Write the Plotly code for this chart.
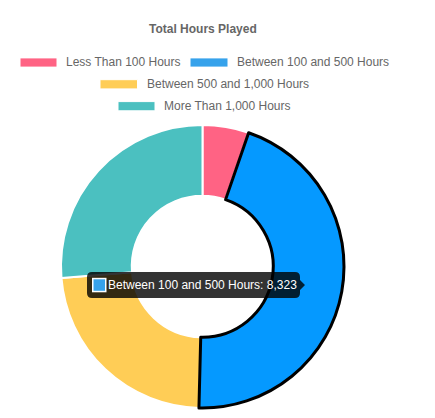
import plotly.graph_objects as go

# ---- data ----
labels = ["Less Than 100 Hours", "Between 100 and 500 Hours",
          "Between 500 and 1,000 Hours", "More Than 1,000 Hours"]
values = [975, 8323, 4300, 4850]
colors = ["rgb(255,99,132)", "rgb(54,162,235)", "rgb(255,205,86)", "rgb(75,192,192)"]
hover_index = 1
hover_color = "rgb(5,153,255)"
title_text = "Total Hours Played"

# the page body has an 8px margin, so the figure is shifted by it
OFF = 8
W, H = 435 - OFF, 418 - OFF


def px(x):
    return (x - OFF) / W


def py(y):
    return 1 - (y - OFF) / H


# pie geometry (pixels in window coordinates)
cx, cy, r = 202.5, 266.5, 141.5
domain = dict(x=[px(cx - r), px(cx + r)], y=[py(cy + r), py(cy - r)])

base_colors = [hover_color if i == hover_index else c for i, c in enumerate(colors)]

fig = go.Figure()
fig.add_trace(go.Pie(
    labels=labels, values=values, sort=False, direction="clockwise", rotation=0,
    hole=0.5, domain=domain, textinfo="none", hoverinfo="skip", showlegend=False,
    marker=dict(colors=base_colors, line=dict(color="white", width=2)),
))
# overlay for the highlighted (hovered) slice so its border sits on top
over_colors = [hover_color if i == hover_index else "rgba(0,0,0,0)" for i in range(len(values))]
over_widths = [3 if i == hover_index else 0 for i in range(len(values))]
fig.add_trace(go.Pie(
    labels=labels, values=values, sort=False, direction="clockwise", rotation=0,
    hole=0.5, domain=domain, textinfo="none", hoverinfo="skip", showlegend=False,
    marker=dict(colors=over_colors, line=dict(color="black", width=over_widths)),
))

shapes = []
annotations = []

# title
annotations.append(dict(x=px(202.5), y=py(28.5), xref="paper", yref="paper",
                        text="<b>" + title_text + "</b>", showarrow=False,
                        xanchor="center", yanchor="middle",
                        font=dict(family="Liberation Sans, Arial", size=12, color="#666")))

# legend (custom layout like the reference)
legend_pos = [  # box_x0, box_x1, row_y
    (20, 57, 62.5),
    (190, 228, 62.5),
    (100, 137.5, 84.3),
    (118, 155, 106.2),
]
for i, (bx0, bx1, ry) in enumerate(legend_pos):
    shapes.append(dict(type="rect", xref="paper", yref="paper",
                       x0=px(bx0), x1=px(bx1), y0=py(ry - 4.6), y1=py(ry + 4.6),
                       fillcolor=colors[i], line=dict(color="white", width=1), layer="above"))
    annotations.append(dict(x=px(bx1 + 7), y=py(ry - 0.5), xref="paper", yref="paper",
                            text=labels[i], showarrow=False, xanchor="left", yanchor="middle",
                            font=dict(family="Liberation Sans, Arial", size=12, color="#666")))

# tooltip
tx0, tx1, ty0, ty1, rad = 87, 300, 272, 298, 5
tmid = (ty0 + ty1) / 2


def P(x, y):
    return f"{px(x)},{py(y)}"


path = (f"M {P(tx0 + rad, ty0)} L {P(tx1 - rad, ty0)} Q {P(tx1, ty0)} {P(tx1, ty0 + rad)} "
        f"L {P(tx1, tmid - 5)} L {P(tx1 + 5, tmid)} L {P(tx1, tmid + 5)} "
        f"L {P(tx1, ty1 - rad)} Q {P(tx1, ty1)} {P(tx1 - rad, ty1)} "
        f"L {P(tx0 + rad, ty1)} Q {P(tx0, ty1)} {P(tx0, ty1 - rad)} "
        f"L {P(tx0, ty0 + rad)} Q {P(tx0, ty0)} {P(tx0 + rad, ty0)} Z")
shapes.append(dict(type="path", xref="paper", yref="paper", path=path,
                   fillcolor="rgba(0,0,0,0.8)", line=dict(width=0), layer="above"))
shapes.append(dict(type="rect", xref="paper", yref="paper",
                   x0=px(92), x1=px(106.5), y0=py(292.3), y1=py(277.8),
                   fillcolor="white", line=dict(width=0), layer="above"))
shapes.append(dict(type="rect", xref="paper", yref="paper",
                   x0=px(93.5), x1=px(105), y0=py(290.8), y1=py(279.3),
                   fillcolor=colors[hover_index], line=dict(width=0), layer="above"))
annotations.append(dict(x=px(106), y=py(285), xref="paper", yref="paper",
                        text=f"{labels[hover_index]}: {values[hover_index]:,}",
                        showarrow=False, xanchor="left", yanchor="middle",
                        font=dict(family="Liberation Sans, Arial", size=12, color="white")))

fig.update_layout(
    width=W, height=H, margin=dict(l=0, r=0, t=0, b=0),
    paper_bgcolor="white", plot_bgcolor="white",
    shapes=shapes, annotations=annotations, showlegend=False,
)

fig.write_html("out.html", config={"displayModeBar": False})
